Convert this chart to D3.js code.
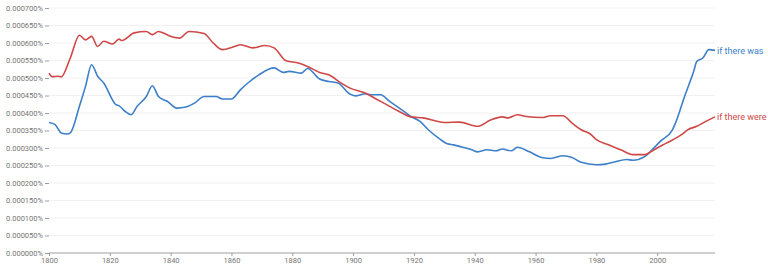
<!DOCTYPE html>
<html>
<head>
<meta charset="utf-8">
<script src="https://cdn.jsdelivr.net/npm/d3@7"></script>
<style>
  body { margin: 0; background: #fff; }
  svg { font-family: Roboto, "Noto Sans", sans-serif; }
  .tick text { fill: #757575; font-size: 7.5px; font-family: Roboto, "Noto Sans", sans-serif; }
  .series-label { font-size: 9px; }
</style>
</head>
<body>
<svg width="768" height="269"></svg>
<script>
// values are percentages
var wereYears = [1800,1801,1803,1804,1807,1810,1812,1814,1816,1818,1821,1823,1824,1828,1832,1834,1836,1840,1843,1846,1851,1854,1857,1861,1863,1867,1871,1874,1878,1882,1885,1889,1892,1896,1899,1904,1908,1911,1915,1919,1923,1930,1935,1941,1945,1949,1951,1954,1957,1962,1965,1969,1972,1975,1978,1980,1984,1988,1992,1996,1998,2000,2003,2008,2010,2013,2016,2019];
var wereValues = [0.000514,0.000504,0.000505,0.000503,0.000557,0.000622,0.000609,0.000619,0.000590,0.000605,0.000597,0.000611,0.000607,0.000629,0.000633,0.000624,0.000633,0.000619,0.000614,0.000633,0.000627,0.000600,0.000581,0.000590,0.000595,0.000586,0.000593,0.000586,0.000549,0.000543,0.000533,0.000516,0.000509,0.000486,0.000471,0.000457,0.000438,0.000424,0.000405,0.000389,0.000386,0.000373,0.000374,0.000362,0.000379,0.000389,0.000386,0.000395,0.000390,0.000387,0.000392,0.000392,0.000371,0.000352,0.000340,0.000324,0.000309,0.000295,0.000281,0.000281,0.000290,0.000300,0.000314,0.000338,0.000352,0.000362,0.000376,0.000389];

var wasYears = [1800,1802,1804,1806,1807,1810,1812,1814,1816,1818,1822,1823,1825,1827,1829,1832,1834,1836,1839,1842,1845,1848,1851,1855,1857,1860,1863,1866,1869,1874,1877,1879,1883,1885,1889,1892,1895,1899,1901,1904,1906,1909,1912,1916,1919,1922,1925,1928,1931,1933,1937,1939,1941,1944,1947,1949,1952,1954,1958,1962,1965,1969,1972,1975,1980,1983,1986,1990,1992,1996,1998,2001,2005,2006,2009,2012,2013,2015,2017,2019];
var wasValues = [0.000373,0.000367,0.000343,0.000340,0.000343,0.000419,0.000476,0.000538,0.000505,0.000486,0.000424,0.000421,0.000405,0.000395,0.000419,0.000447,0.000478,0.000447,0.000433,0.000414,0.000417,0.000429,0.000447,0.000447,0.000440,0.000440,0.000467,0.000490,0.000509,0.000529,0.000516,0.000519,0.000514,0.000527,0.000497,0.000490,0.000486,0.000454,0.000449,0.000455,0.000452,0.000452,0.000433,0.000409,0.000390,0.000376,0.000350,0.000329,0.000312,0.000309,0.000300,0.000295,0.000289,0.000295,0.000292,0.000297,0.000292,0.000302,0.000289,0.000273,0.000270,0.000278,0.000273,0.000259,0.000252,0.000254,0.000260,0.000267,0.000265,0.000276,0.000292,0.000319,0.000352,0.000371,0.000447,0.000519,0.000547,0.000557,0.000581,0.000579];

var yTicks = [0,0.00005,0.0001,0.00015,0.0002,0.00025,0.0003,0.00035,0.0004,0.00045,0.0005,0.00055,0.0006,0.00065,0.0007];
var xTicks = [1800,1820,1840,1860,1880,1900,1920,1940,1960,1980,2000];

var series = [
    { name: "if there was", years: wasYears, values: wasValues, color: "#3d7fc9" },
    { name: "if there were", years: wereYears, values: wereValues, color: "#cf4848" }
];

var svg = d3.select("svg"),
    margin = { top: 8, right: 53, bottom: 16, left: 49 },
    width = svg.attr("width") - margin.left - margin.right,
    height = svg.attr("height") - margin.top - margin.bottom;

var g = svg.append("g")
    .attr("transform", "translate(" + margin.left + "," + margin.top + ")");

var x = d3.scaleLinear().domain([1800, 2019]).range([0, width]);
var y = d3.scaleLinear().domain([0, 0.0007]).range([height, 0]);

// grid
g.append("g")
    .selectAll("line")
    .data(yTicks.slice(1))
    .enter()
    .append("line")
    .attr("x1", 0).attr("x2", width)
    .attr("y1", function (d) { return y(d); })
    .attr("y2", function (d) { return y(d); })
    .attr("stroke", "#f1f1f1");

var yAxis = g.append("g")
    .call(d3.axisLeft(y).tickValues(yTicks).tickSize(4).tickPadding(2)
        .tickFormat(function (d) { return d3.format(".6f")(d) + "%"; }));
yAxis.select(".domain").remove();
yAxis.selectAll(".tick line").attr("stroke", "#9e9e9e");

var xAxis = g.append("g")
    .attr("transform", "translate(0," + height + ")")
    .call(d3.axisBottom(x).tickValues(xTicks).tickSize(3).tickPadding(2)
        .tickFormat(d3.format("d")));
xAxis.select(".domain").attr("stroke", "#9e9e9e").attr("d", "M0,0H" + width);
xAxis.selectAll(".tick line").attr("stroke", "#9e9e9e");

var line = d3.line()
    .x(function (d) { return x(d[0]); })
    .y(function (d) { return y(d[1]); })
    .curve(d3.curveMonotoneX);

series.forEach(function (s) {
    var pts = s.years.map(function (yr, i) { return [yr, s.values[i]]; });
    g.append("path")
        .datum(pts)
        .attr("fill", "none")
        .attr("stroke", s.color)
        .attr("stroke-width", 1.6)
        .attr("d", line);
    var last = pts[pts.length - 1];
    g.append("text")
        .attr("class", "series-label")
        .attr("x", x(last[0]) + 2)
        .attr("y", y(last[1]))
        .attr("dy", "0.35em")
        .attr("fill", s.color)
        .text(s.name);
});
</script>
</body>
</html>
